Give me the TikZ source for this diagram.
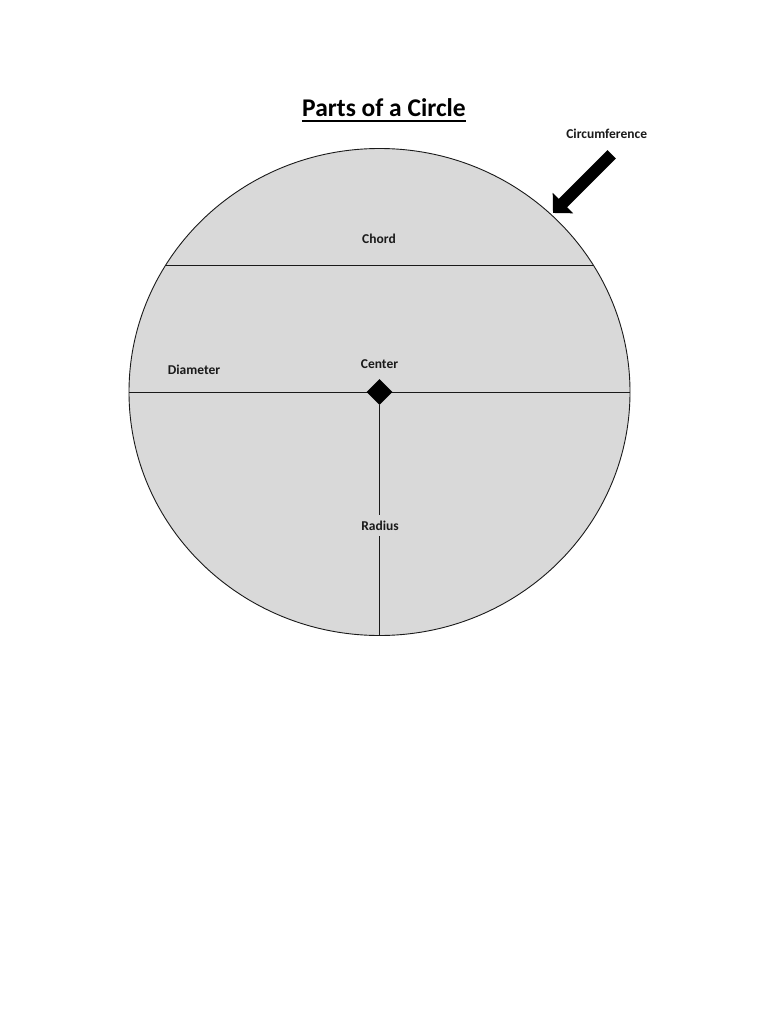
\documentclass[tikz,border=0pt]{standalone}
\usepackage{fontspec}
\setmainfont{Carlito}
\usetikzlibrary{shapes.geometric,arrows.meta}
\definecolor{discfill}{HTML}{D9D9D9}
\definecolor{inkline}{HTML}{1A1A1A}
\begin{document}
\begin{tikzpicture}[x=1pt,y=-1pt,
  lbl/.style={font=\fontsize{13.5}{15}\selectfont\bfseries, anchor=base, inner sep=0pt, text=inkline},
  partline/.style={draw=inkline, line width=0.9pt}]
\useasboundingbox[fill=white] (0,0) rectangle (768,1024);
% disc
\draw[fill=discfill, draw=inkline, line width=0.9pt] (379.5,392) ellipse [x radius=250.5, y radius=243.5];
% coordinates
\coordinate (chL) at (165.3,265.7);
\coordinate (chR) at (593.7,265.7);
\coordinate (dL) at (129,392);
\coordinate (dR) at (630,392);
\coordinate (bot) at (379.5,635.5);
\coordinate (arT) at (611.7,154.3);
\coordinate (arH) at (553,213);
% chord and diameter
\draw[partline] (chL) -- (chR);
\draw[partline] (dL) -- (dR);
% center marker
\node[diamond, fill=black, inner sep=0pt, minimum width=26, minimum height=26] (ctr) at (379.5,392) {};
% radius
\draw[partline] (ctr.south) -- (bot);
% labels
\node[font=\fontsize{25.5}{30}\selectfont\bfseries, anchor=base, inner sep=0pt] (title) at (384,116.5) {Parts of a Circle};
\draw[line width=1.8pt] ([yshift=-4.5pt]title.base west) -- ([yshift=-4.5pt]title.base east);
\node[lbl] (circ) at (606.7,138.3) {Circumference};
\node[lbl] (chord) at (379,243.3) {Chord};
\node[lbl] (diam) at (194,374.3) {Diameter};
\node[lbl] (cent) at (379.5,368.3) {Center};
\node[lbl, fill=discfill, inner xsep=2pt, inner ysep=6pt] (rad) at (380,530) {Radius};
% arrow pointing at circumference
\draw[line width=12pt, -{Triangle[width=28pt,length=14pt]}] (arT) -- (arH);
\end{tikzpicture}
\end{document}
